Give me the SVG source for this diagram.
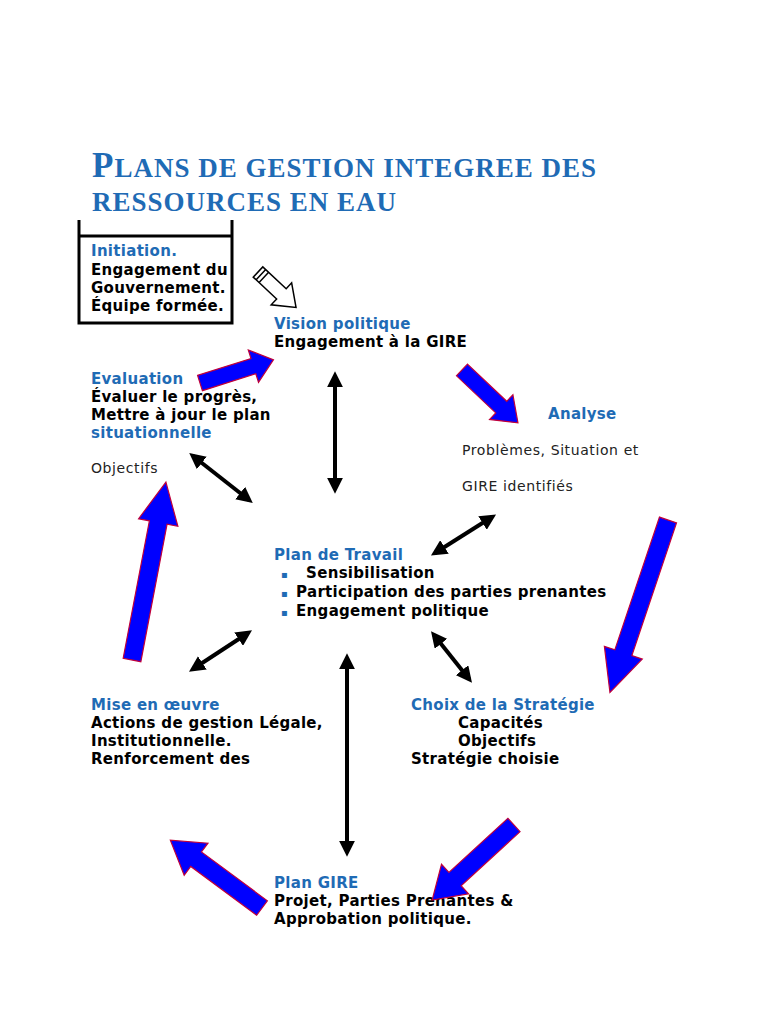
<svg xmlns="http://www.w3.org/2000/svg" width="768" height="1024" viewBox="0 0 768 1024">
<style>
text{font-family:"DejaVu Sans",sans-serif;font-size:15px;font-weight:bold;letter-spacing:0.3px;fill:#000}
.b{fill:#1f6bb5}
.t{font-family:"Liberation Serif",serif;fill:#1f6bb5;font-weight:bold;letter-spacing:1px}
.a{fill:#0000ff;stroke:#c0003a;stroke-width:1.2}
.d{stroke:#000;stroke-width:4;marker-start:url(#m);marker-end:url(#m)}
.l{font-size:14px;font-weight:normal;letter-spacing:0.6px;fill:#222}
</style>
<defs>
<marker id="m" viewBox="0 0 10 10" refX="7" refY="5" markerWidth="4" markerHeight="4" orient="auto-start-reverse" markerUnits="strokeWidth"><path d="M0,0 L10,5 L0,10 Z"/></marker>
</defs>
<rect width="768" height="1024" fill="#fff"/>
<g id="title">
<text class="t" x="92" y="177" style="font-size:27px"><tspan style="font-size:35px">P</tspan>LANS DE GESTION INTEGREE DES</text>
<text class="t" x="92" y="211" style="font-size:27px">RESSOURCES EN EAU</text>
</g>
<g id="initiation">
<path d="M79,220 V323 H232 V220 M79,236 H232" fill="none" stroke="#000" stroke-width="3"/>
<text x="91" y="256" class="b">Initiation.</text>
<text x="91" y="275">Engagement du</text>
<text x="91" y="293">Gouvernement.</text>
<text x="91" y="311">Équipe formée.</text>
</g>
<g id="vision"><text x="274" y="329" class="b">Vision politique</text><text x="274" y="347">Engagement à la  GIRE</text></g>
<g id="evaluation"><text x="91" y="384" class="b">Evaluation</text><text x="91" y="402">Évaluer le progrès,</text><text x="91" y="420">Mettre à jour le plan</text><text x="91" y="438" class="b">situationnelle</text><text x="91" y="473" class="l">Objectifs</text></g>
<g id="analyse"><text x="548" y="419" class="b">Analyse</text><text x="462" y="455" class="l">Problèmes, Situation et</text><text x="462" y="491" class="l">GIRE identifiés</text></g>
<g id="plan"><text x="274" y="560" class="b">Plan de Travail</text>
<text x="281" y="578"><tspan class="b" style="font-size:10px">▪</tspan><tspan dx="18">Sensibilisation</tspan></text>
<text x="281" y="597"><tspan class="b" style="font-size:10px">▪</tspan><tspan dx="8">Participation des parties prenantes</tspan></text>
<text x="281" y="616"><tspan class="b" style="font-size:10px">▪</tspan><tspan dx="8">Engagement politique</tspan></text></g>
<g id="mise"><text x="91" y="710" class="b">Mise en œuvre</text><text x="91" y="728">Actions de gestion Légale,</text><text x="91" y="746">Institutionnelle.</text><text x="91" y="764">Renforcement des</text></g>
<g id="choix"><text x="411" y="710" class="b">Choix de la Stratégie</text><text x="458" y="728">Capacités</text><text x="458" y="746">Objectifs</text><text x="411" y="764">Stratégie choisie</text></g>
<g id="gire"><text x="274" y="888" class="b">Plan GIRE</text><text x="274" y="906">Projet, Parties Prenantes &amp;</text><text x="274" y="924">Approbation politique.</text></g>
<g id="connectors">
<g transform="translate(258,272) rotate(43)"><path d="M0,-7 L32,-7 L32,-15 L52,0 L32,15 L32,7 L0,7 Z" fill="#fff" stroke="#000" stroke-width="1.5"/><path d="M4,-7 V7 M8,-7 V7" stroke="#000" stroke-width="1.5"/></g>
<path class="a" transform="translate(200,383) rotate(-17.5)" d="M0,-8 L56,-8 L56,-17 L77,0 L56,17 L56,8 L0,8 Z"/>
<path class="a" transform="translate(462,370) rotate(43.4)" d="M0,-8 L54,-8 L54,-17 L77,0 L54,17 L54,8 L0,8 Z"/>
<path class="a" transform="translate(668,520) rotate(108.6)" d="M0,-9 L140,-9 L140,-20 L182,0 L140,20 L140,9 L0,9 Z"/>
<path class="a" transform="translate(514,825) rotate(137.5)" d="M0,-9 L80,-9 L80,-20 L111,0 L80,20 L80,9 L0,9 Z"/>
<path class="a" transform="translate(262,908) rotate(216.5)" d="M0,-9 L82,-9 L82,-20 L114,0 L82,20 L82,9 L0,9 Z"/>
<path class="a" transform="translate(132,660) rotate(-79.2)" d="M0,-9 L140,-9 L140,-20 L181,0 L140,20 L140,9 L0,9 Z"/>
<line class="d" x1="335" y1="376" x2="335" y2="489"/>
<line class="d" x1="193" y1="456" x2="249" y2="500"/>
<line class="d" x1="492" y1="517" x2="435" y2="553"/>
<line class="d" x1="248" y1="633" x2="193" y2="669"/>
<line class="d" x1="434" y1="635" x2="469" y2="679"/>
<line class="d" x1="347" y1="658" x2="347" y2="852"/>
</g>
</svg>
